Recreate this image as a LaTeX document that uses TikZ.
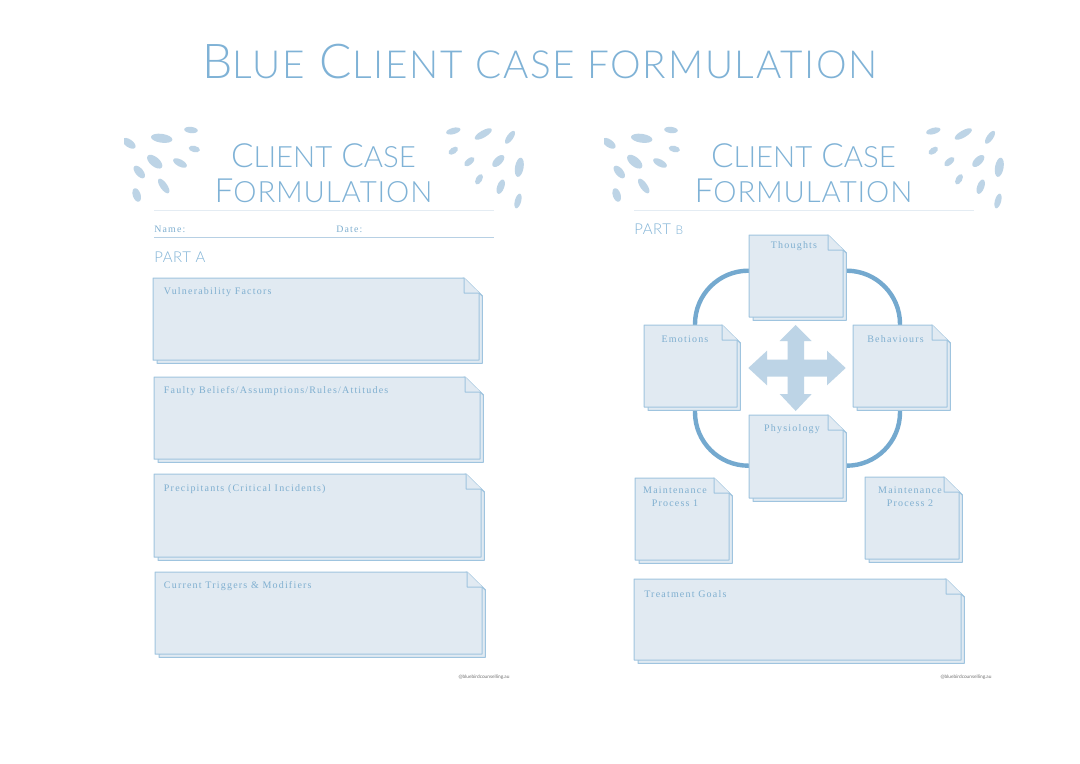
\documentclass[tikz,border=0pt]{standalone}
\usepackage{fontspec}
\setmainfont{Liberation Serif}
\newfontfamily\titlefont[LetterSpace=4.5]{Lato Light}
\newfontfamily\cardfonta{Lato Light}
\newfontfamily\cardfontb[LetterSpace=3]{Lato Light}
\newfontfamily\partfont[LetterSpace=4]{Lato Light}
\newfontfamily\footfont{Lato}
\newfontfamily\notefont[LetterSpace=12]{Liberation Serif}
\definecolor{notefill}{HTML}{E1EAF2}
\definecolor{noteline}{HTML}{9FC4DF}
\definecolor{titleblue}{HTML}{7FB2D6}
\definecolor{labelblue}{HTML}{7FAFD0}
\definecolor{leafblue}{HTML}{BDD4E6}
\definecolor{ringblue}{HTML}{74A9CF}
\definecolor{ruleA}{HTML}{E4ECF3}
\definecolor{ruleB}{HTML}{B7D0E4}
\newcommand{\note}[8]{%
  \coordinate (#1) at (#2,#3);
  \draw[notestyle] ({#2+4},#5) -- ({#2+4},{#5+3.3}) -- ({#4+3.4},{#5+3.3}) -- ({#4+3.4},{#3+18}) -- ({#4-15},#3) -- cycle;
  \draw[notestyle] (#2,#3) -- ({#4-15},#3) -- (#4,{#3+15}) -- (#4,#5) -- (#2,#5) -- cycle;
  \draw[notestyle] ({#4-15},#3) -- ({#4-15},{#3+15}) -- (#4,{#3+15}) -- ({#4+3.4},{#3+18});
  \node[notelabel,anchor=#6] (#1-label) at #7 {#8};
}
\newcommand{\leaf}[5]{\fill[leafblue,rotate around={-#5:(#1,#2)}] (#1,#2) ellipse [x radius=1.08*#3*.75pt,y radius=1.3*#4*.75pt];}
\newcommand{\header}[1]{%
  \begin{scope}[xshift=#1*.75pt]
    \begin{scope}
      \clip (124,120) rectangle (524,212);
      \leaf{161.7}{138.3}{10}{3.4}{8}
      \leaf{191}{130}{6.3}{2.4}{6}
      \leaf{194.3}{149}{5.3}{2.4}{12}
      \leaf{129}{143.3}{7}{3}{35}
      \leaf{154.7}{161.7}{8.5}{3.6}{40}
      \leaf{180}{163}{7}{2.7}{28}
      \leaf{139.3}{172}{7}{3}{50}
      \leaf{163.7}{186}{8}{2.7}{55}
      \leaf{136.7}{195}{6.5}{3}{72}
      \leaf{453.3}{131}{6.8}{2.4}{-15}
      \leaf{483.3}{134}{9}{2.7}{-30}
      \leaf{510}{137.3}{7}{2.4}{-55}
      \leaf{453.3}{150.7}{5}{2.4}{-35}
      \leaf{469.3}{161.7}{5.7}{2.4}{-40}
      \leaf{498.3}{161}{7}{3}{-45}
      \leaf{519.3}{167.3}{9}{3.3}{-80}
      \leaf{479}{179.3}{5.3}{2.4}{-60}
      \leaf{500.7}{186.7}{7}{2.7}{-70}
      \leaf{518}{201}{7}{2.4}{-75}
    \end{scope}
    \node[cardtitle,font=\cardfonta\fontsize{25pt}{27pt}\selectfont] (title#1a) at (323.5,155.7) {C{\fontsize{22pt}{26pt}\selectfont LIENT} C{\fontsize{22pt}{26pt}\selectfont ASE}};
    \node[cardtitle,font=\cardfontb\fontsize{25pt}{27pt}\selectfont] (title#1b) at (323.5,190.7) {F{\fontsize{22pt}{26pt}\selectfont ORMULATION}};
    \draw[ruleA,line width=.8pt] (154,210.5) -- (494,210.5);
  \end{scope}
}
\tikzset{
  x=.75pt,y=-.75pt,
  notestyle/.style={draw=noteline,fill=notefill,line width=.75pt,line join=round},
  notelabel/.style={inner sep=0pt,text=labelblue,font=\notefont\fontsize{7.5pt}{9.6pt}\selectfont,align=center},
  cardtitle/.style={inner sep=0pt,anchor=center,text=titleblue},
  ring/.style={draw=ringblue,line width=3.3pt,rounded corners=40pt},
  parthead/.style={inner sep=0pt,anchor=west,text=titleblue,font=\partfont\fontsize{11.2pt}{13pt}\selectfont},
  foot/.style={inner sep=0pt,anchor=center,text=black!55,font=\footfont\fontsize{3.6pt}{4pt}\selectfont}
}
\begin{document}
\begin{tikzpicture}
\useasboundingbox (0,0) rectangle (1080,763);
\fill[white] (0,0) rectangle (1080,763);
\node[inner sep=0pt,text=titleblue,font=\titlefont\fontsize{36pt}{40pt}\selectfont] (maintitle) at (540,62) {B{\fontsize{29pt}{32pt}\selectfont LUE} C{\fontsize{29pt}{32pt}\selectfont LIENT CASE FORMULATION}};
\header{0}
\header{480}
% Part A
\node[inner sep=0pt,anchor=west,text=labelblue,font=\notefont\fontsize{7.4pt}{9pt}\selectfont] (name) at (154,229.5) {Name:};
\node[inner sep=0pt,anchor=west,text=labelblue,font=\notefont\fontsize{7.4pt}{9pt}\selectfont] (date) at (336,229.5) {Date:};
\draw[ruleB,line width=.8pt] (154,237.5) -- (494,237.5);
\node[parthead] (parta) at (154,257) {PART A};
\node[parthead] (partb) at (634,229) {PART {\fontsize{9pt}{11pt}\selectfont B}};
\note{vuln}{153}{278}{479}{360}{west}{(163.7,291.7)}{Vulnerability Factors}
\note{faulty}{154}{377}{480}{459}{west}{(163.7,390.7)}{Faulty Beliefs/Assumptions/Rules/Attitudes}
\note{precip}{154}{474}{481}{557}{west}{(163.7,488.7)}{Precipitants (Critical Incidents)}
\note{trig}{155}{572}{482}{654}{west}{(163.7,585.7)}{Current Triggers \& Modifiers}
% ring connectors
\coordinate (tl) at (749,270.7); \coordinate (lt) at (695,325);
\coordinate (tr) at (846,270.7); \coordinate (rt) at (900,325);
\coordinate (lb) at (695,411); \coordinate (bl) at (749,465.7);
\coordinate (rb) at (900,411); \coordinate (br) at (846,465.7);
\draw[ring] (tl) -| (lt);
\draw[ring] (tr) -| (rt);
\draw[ring] (bl) -| (lb);
\draw[ring] (br) -| (rb);
% cross arrow
\fill[leafblue] (748.3,368) -- (767,350.7) -- (767,359.5) -- (787.7,359.5) -- (787.7,341) -- (779.7,341) -- (795.7,325) -- (811.7,341) -- (804,341) -- (804,359.5) -- (827,359.5) -- (827,350.7) -- (845.7,368) -- (827,385.3) -- (827,376.7) -- (804,376.7) -- (804,394) -- (811.7,394) -- (795.7,411) -- (779.7,394) -- (787.7,394) -- (787.7,376.7) -- (767,376.7) -- (767,385.3) -- cycle;
\note{thoughts}{749}{235}{843}{317}{center}{(794,246.5)}{Thoughts}
\note{emotions}{644}{325}{737}{407}{center}{(685,339.5)}{Emotions}
\note{behaviours}{853}{325}{947}{407}{center}{(895.5,339.5)}{Behaviours}
\note{physiology}{749}{415}{843}{498}{center}{(792,428.7)}{Physiology}
\note{mpa}{635}{478}{729}{560}{center}{(675,496.7)}{Maintenance\\Process 1}
\note{mpb}{865}{477}{959}{559}{center}{(910,496.7)}{Maintenance\\Process 2}
\note{goals}{634}{579}{961}{660}{west}{(644,594.5)}{Treatment Goals}
\node[foot] (foota) at (484,677) {@bluebirdcounselling.au};
\node[foot] (footb) at (966,677) {@bluebirdcounselling.au};
\end{tikzpicture}
\end{document}
